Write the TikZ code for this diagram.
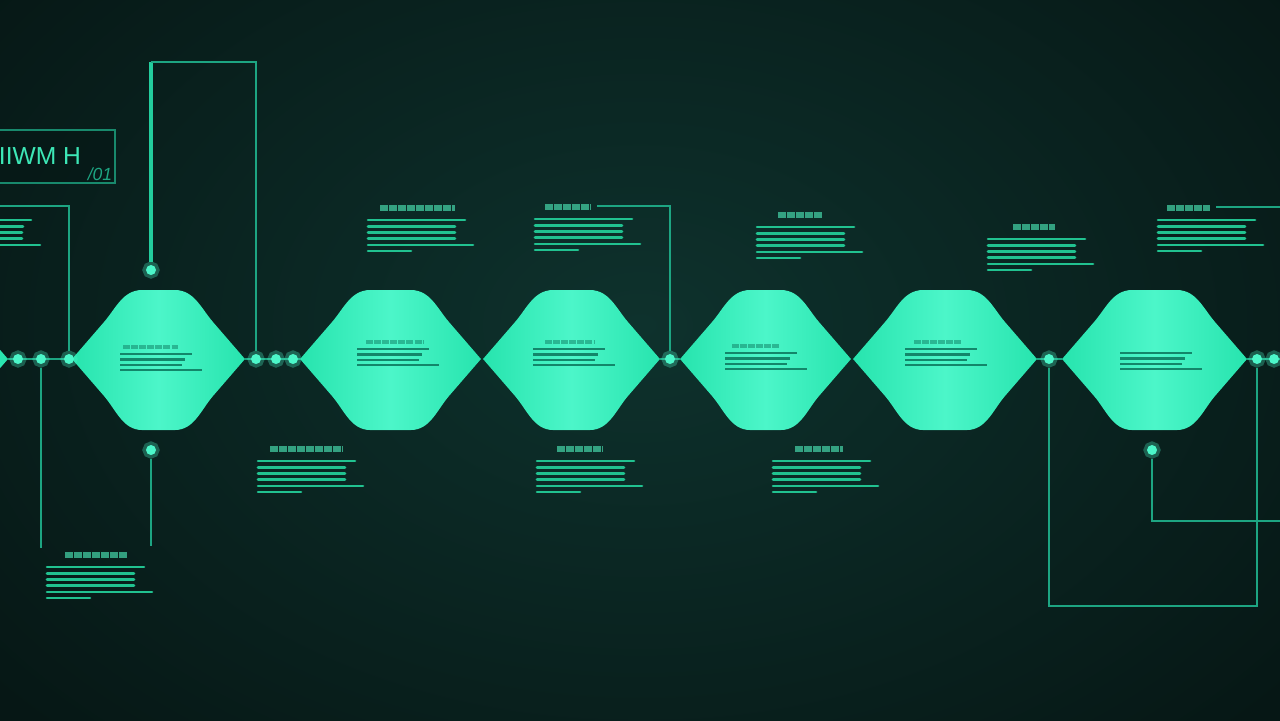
\documentclass[tikz,border=0pt]{standalone}
\usepackage{fontspec}
\setsansfont{Liberation Sans}
\usetikzlibrary{positioning}

\definecolor{bgmid}{HTML}{0E322D}
\definecolor{bgedge}{HTML}{061715}
\definecolor{mint}{HTML}{27E4AE}
\definecolor{mintlight}{HTML}{4CF6C9}
\definecolor{wire}{HTML}{1DA582}
\definecolor{ink}{HTML}{21C290}
\definecolor{lensink}{HTML}{13866A}

\tikzset{
  wire/.style={draw=wire, line width=0.5pt},
  wirebold/.style={draw=mint!90!black, line width=1pt},
  bar/.style={draw=ink, line width=0.75pt, line cap=round},
  headbar/.style={draw=ink!85!white, opacity=0.75, line width=1.7pt, dash pattern=on 2.2pt off 0.35pt},
  lensbar/.style={draw=lensink, line width=0.7pt},
  lenshead/.style={draw=lensink, opacity=0.55, line width=1.3pt, dash pattern=on 2pt off 0.3pt},
  lensfill/.style={left color=mint, right color=mint, middle color=mintlight},
  dot/.style={circle, fill=mintlight, inner sep=0pt, minimum size=0.1cm,
    draw=mintlight, draw opacity=0.3, line width=2pt},
  title/.style={font=\sffamily\fontsize{7}{8}\selectfont, text=mint!90!white}
}

% one lens of the chain: #1 name, #2 west tip, #3 east tip
\newcommand{\lens}[3]{%
  \fill[lensfill] (#2,359) -- ({#2+32},322) .. controls ({#2+44},308) and ({#2+51},290) .. ({#2+70},290)
    -- ({#3-70},290) .. controls ({#3-51},290) and ({#3-44},308) .. ({#3-32},322)
    -- (#3,359) -- ({#3-32},396) .. controls ({#3-44},410) and ({#3-51},430) .. ({#3-70},430)
    -- ({#2+70},430) .. controls ({#2+51},430) and ({#2+44},410) .. ({#2+32},396) -- cycle;
  \coordinate (#1) at ({(#2+#3)/2},359);
  \coordinate (#1-w) at (#2,359);
  \coordinate (#1-e) at (#3,359);
}
% text inside a lens: #1 left, #2 heading y, #3 heading x, #4 heading width
\newcommand{\lenstext}[4]{%
  \draw[lenshead] (#3,#2) -- ++(#4,0);
  \foreach \w [count=\i from 0] in {72,65,62,82}
    \draw[lensbar] (#1,{#2+7+5.4*\i}) -- ++(\w,0);
}
% text block on the background
\newcommand{\note}[4]{%
  \draw[headbar] (#3,#2) -- ++(#4,0);
  \foreach \w [count=\i from 0] in {97,87,87,87,105,43}
    \draw[bar] (#1,{#2+12+6.2*\i}) -- ++(\w,0);
}

\begin{document}
\begin{tikzpicture}[x=0.01cm, y=-0.01cm]
  \useasboundingbox (0,0) rectangle (1280,720);
  \clip (0,0) rectangle (1280,720);
  \shade[inner color=bgmid, outer color=bgedge] (-200,-250) rectangle (1480,900);

  % title box
  \fill[bgedge, opacity=0.5] (-5,130) rectangle (115,183);
  \draw[wire, line width=0.8pt, draw opacity=0.8] (-5,130) rectangle (115,183);
  \node[title] (ttl) at (40,156) {IIWM H};
  \node[title, font=\sffamily\itshape\fontsize{5}{6}\selectfont, text=wire] (ttlno) at (100,174) {/01};

  % chain
  \lens{s0}{-165}{8}
  \lens{s1}{72}{245}
  \lens{s2}{300}{481}
  \lens{s3}{483}{660}
  \lens{s4}{680}{851}
  \lens{s5}{853}{1037}
  \lens{s6}{1062}{1247}

  \lenstext{120}{347}{123}{55}
  \lenstext{357}{342}{366}{58}
  \lenstext{533}{342}{545}{50}
  \lenstext{725}{346}{732}{48}
  \lenstext{905}{342}{914}{48}
  \lenstext{1120}{346}{1126}{0}

  % spine between the lenses
  \draw[wire] (s0-e) -- (s1-w);
  \draw[wire] (s1-e) -- (s2-w);
  \draw[wire] (s3-e) -- (s4-w);
  \draw[wire] (s5-e) -- (s6-w);
  \draw[wire] (s6-e) -- (1280,359);

  \node[dot] (p1) at (18,359) {};
  \node[dot] (p2) at (41,359) {};
  \node[dot] (p3) at (69,359) {};
  \node[dot] (p4) at (256,359) {};
  \node[dot] (p5) at (276,359) {};
  \node[dot] (p6) at (293,359) {};
  \node[dot] (p7) at (670,359) {};
  \node[dot] (p8) at (1049,359) {};
  \node[dot] (p9) at (1257,359) {};
  \node[dot] (p10) at (1274,359) {};
  \node[dot] (u1) at (151,270) {};
  \node[dot] (d1) at (151,450) {};
  \node[dot] (d2) at (1152,450) {};

  % connectors
  \coordinate (c0) at (151,62);
  \coordinate (c2) at (-5,206);
  \coordinate (c3) at (41,548);
  \coordinate (c4) at (151,546);
  \coordinate (c5) at (597,206);
  \coordinate (c6) at (1216,207);
  \coordinate (c6e) at (1285,207);
  \coordinate (c7) at (1049,606);
  \coordinate (c8) at (1285,521);
  \draw[wirebold] (u1) -- (c0);
  \draw[wire] (c0) -| (p4);
  \draw[wire] (c2) -| (p3);
  \draw[wire] (p2) -- (c3);
  \draw[wire] (d1) -- (c4);
  \draw[wire] (c5) -| (p7);
  \draw[wire] (c6) -- (c6e);
  \draw[wire] (p8) -- (c7) -| (p9);
  \draw[wire] (d2) |- (c8);

  % text blocks
  \foreach \w [count=\i from 0] in {33,25,24,24,42}
    \draw[bar] (-2,{220+6.2*\i}) -- ++(\w,0);
  \note{368}{208}{380}{75}
  \note{535}{207}{545}{45}
  \note{757}{215}{778}{44}
  \note{988}{227}{1013}{42}
  \note{1158}{208}{1167}{43}
  \note{258}{449}{270}{73}
  \note{537}{449}{557}{45}
  \note{773}{449}{795}{48}
  \note{47}{555}{65}{62}
\end{tikzpicture}
\end{document}
